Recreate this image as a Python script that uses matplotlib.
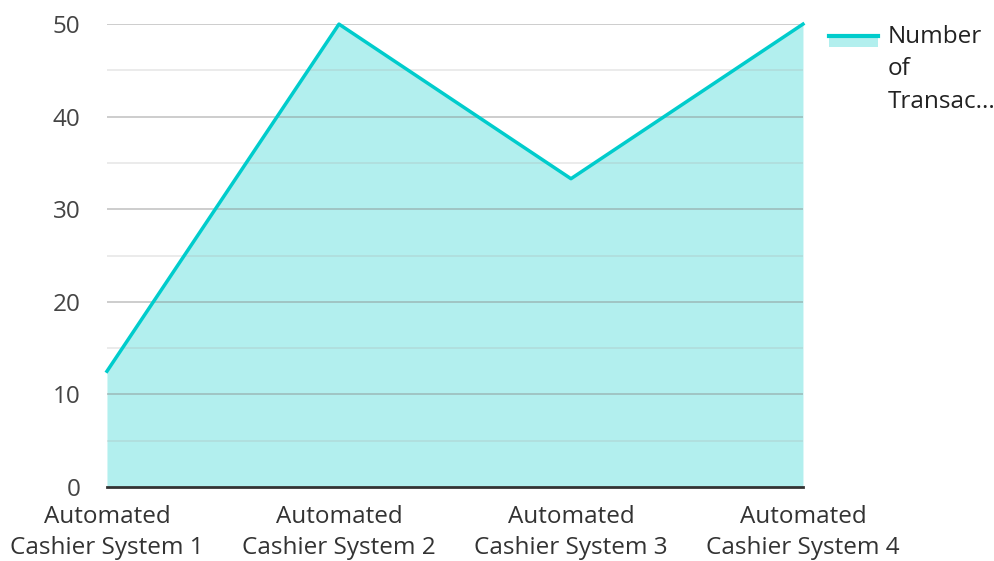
import matplotlib.pyplot as plt
from matplotlib.lines import Line2D
from matplotlib.patches import Rectangle

plt.rcParams['font.family'] = ['Open Sans', 'DejaVu Sans']

# data
categories = ['Automated\nCashier System 1', 'Automated\nCashier System 2',
              'Automated\nCashier System 3', 'Automated\nCashier System 4']
transactions = [12.5, 50, 33.3, 50]
series_label = 'Number\nof\nTransac...'

line_col = '#00cccc'
fill_col = '#b2efee'

fig = plt.figure(figsize=(9.95, 5.61), dpi=100)
ax = fig.add_axes([0.1075, 0.132, 0.6995, 0.825])

x = range(len(categories))
ax.fill_between(x, transactions, 0, color=fill_col, lw=0, zorder=1)
ax.plot(x, transactions, color=line_col, lw=2.5, zorder=4, clip_on=False)

# gridlines on top of the fill
for v in range(5, 51, 5):
    c = '#888888' if v % 10 == 0 else '#aaaaaa'
    a = 0.45 if v % 10 == 0 else 0.25
    ax.axhline(v, color=c, alpha=a, lw=1.3, zorder=2)

ax.set_xlim(0, 3)
ax.set_ylim(0, 50)
ax.set_yticks(range(0, 51, 10))
ax.set_xticks(list(x))
ax.set_xticklabels(categories, fontsize=17.5, color='#333333', linespacing=1.37)
ax.tick_params(axis='y', labelsize=17.5, labelcolor='#444444', length=0, pad=19)
ax.tick_params(axis='x', length=0, pad=13)
for s in ['top', 'right', 'left']:
    ax.spines[s].set_visible(False)
ax.spines['bottom'].set_color('#333333')
ax.spines['bottom'].set_linewidth(2)
ax.spines['bottom'].set_zorder(5)

# legend drawn by hand
fig.patches.append(Rectangle((829 / 995, 1 - 47 / 561), 49 / 995, 12 / 561,
                             transform=fig.transFigure, color=fill_col, lw=0))
fig.lines.append(Line2D([829 / 995, 878 / 995], [1 - 36 / 561, 1 - 36 / 561],
                        transform=fig.transFigure, color=line_col, lw=3))
fig.text(888 / 995, 1 - 25 / 561, series_label, fontsize=17.5, color='#222222',
         va='top', ha='left', linespacing=1.47)

fig.savefig('out.png', dpi=100)
